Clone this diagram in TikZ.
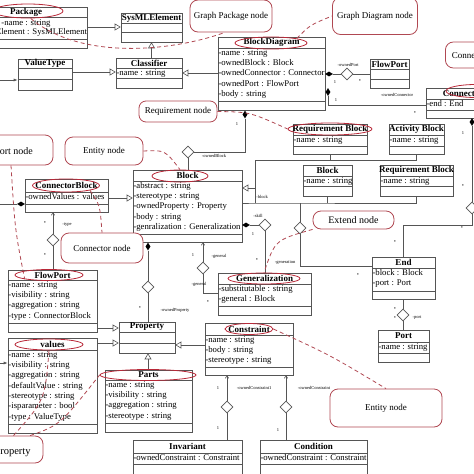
\documentclass[tikz,border=0pt]{standalone}
\usepackage{fontspec}
\setmainfont{Liberation Serif}
\usetikzlibrary{arrows.meta,shapes.geometric,fit,positioning}
\definecolor{notered}{RGB}{176,72,82}
\definecolor{markred}{RGB}{184,40,56}
\definecolor{boxgray}{RGB}{85,85,85}
\newcommand{\linesp}{10.3}
% class box: name, x1, y1, x2, y2, first divider, second divider, title, attributes
\newcommand{\umlclass}[9]{%
  \node[cls, fit={(#2,#3) (#4,#5)}] (#1) {};
  \node[ttl] at ({(#2+#4)/2}, {(#3+#6)/2}) {#8};
  \draw[con] (#2,#6) -- (#4,#6) (#2,#7) -- (#4,#7);
  \foreach \a [count=\i] in {#9} \node[attr] at (#2, {#6+\i*\linesp-\linesp/2}) {\a};
}
\tikzset{
  cls/.style={draw=boxgray, line width=0.6pt, inner sep=0pt},
  con/.style={draw=boxgray, line width=0.6pt},
  ttl/.style={font=\fontsize{9}{10}\selectfont\bfseries, inner sep=0pt},
  attr/.style={anchor=west, font=\fontsize{8.7}{10}\selectfont, inner sep=0pt, xshift=0.3pt, text height=5.8pt, text depth=1.6pt},
  lbl/.style={font=\fontsize{4.5}{5}\selectfont, inner sep=0.5pt},
  callout/.style={draw=notered, line width=0.8pt, rounded corners=8pt, fill=white, font=\fontsize{9}{10}\selectfont},
  hl/.style={draw=markred, ellipse, line width=0.8pt, inner sep=0pt},
  lnk/.style={draw=notered, dash pattern=on 4pt off 3pt, line width=0.8pt},
  gen/.style={-{Triangle[open,length=6pt,width=7pt]}},
  barb/.style={-{Straight Barb[length=2.5pt,width=3.5pt]}},
  hd/.style={diamond, draw=boxgray, fill=white, inner sep=0pt, minimum width=12pt, minimum height=12pt, line width=0.6pt},
  fd/.style={diamond, fill=black, inner sep=0pt, minimum width=5pt, minimum height=8pt},
  fdh/.style={diamond, fill=black, inner sep=0pt, minimum width=8pt, minimum height=5pt},
}
\begin{document}
\begin{tikzpicture}[x=1pt,y=-1pt]
\useasboundingbox (0,0) rectangle (474,474);

% classes
\node[cls, fit={(-35,7) (87,48)}] (pkg) {};
\node[ttl] at (26,12) {Package};
\draw[con] (-35,17) -- (87,17) (-35,39) -- (87,39);
\node[attr] at (1,23) {-name : string};
\node[attr, anchor=east] at (87,32) {-ownedElement : SysMLElement};
\umlclass{sysml}{121}{13}{182}{42}{23}{32}{SysMLElement}{}
\umlclass{vtype}{18}{59}{72}{90}{68}{79}{ValueType}{}
\umlclass{cls}{116}{58}{182}{88}{68}{78}{Classifier}{-name : string}
\umlclass{bd}{218}{37}{325}{110}{48}{101}{BlockDiagram}{-name : string,-ownedBlock : Block,-ownedConnector : Connector,-ownedPort : FlowPort,-body : string}
\umlclass{fp1}{370}{59}{409}{88}{69}{79}{FlowPort}{}
\umlclass{conn}{426}{88}{500}{118}{99}{110}{Connector}{-end : End}
\umlclass{rb1}{293}{124}{367}{154}{135}{146}{Requirement Block}{-name : string}
\umlclass{ab}{389}{124}{444}{154}{135}{146}{Activity Block}{-name : string}
\umlclass{sb}{303}{165}{352}{196}{176}{186}{Block}{-name : string}
\umlclass{rb2}{380}{165}{453}{196}{176}{186}{Requirement Block}{-name : string}
\umlclass{blk}{133}{170}{242}{242}{181}{234}{Block}{-abstract : string,-stereotype : string,-ownedProperty : Property,-body : string,-genralization : Generalization}
\umlclass{cb}{25}{179}{108}{212}{192}{204}{ConnectorBlock}{-ownedValues : values}
\umlclass{fp2}{8}{270}{97}{332}{280}{323}{FlowPort}{-name : string,-visibility : string,-aggregation : string,-type : ConnectorBlock}
\umlclass{vals}{8}{338}{97}{433}{350}{424}{values}{-name : string,-visibility : string,-aggregation : string,-defaultValue : string,-stereotype : string,-isparameter : bool,-type : ValueType}
\umlclass{prop}{119}{322}{175}{353}{332}{343}{Property}{}
\umlclass{gen}{218}{273}{311}{315}{284}{306}{Generalization}{-substitutable : string,-general : Block}
\umlclass{cons}{205}{323}{293}{375}{335}{367}{Constraint}{-name : string,-body : string,-stereotype : string}
\umlclass{parts}{105}{370}{192}{432}{380}{423}{Parts}{-name : string,-visibility : string,-aggregation : string,-stereotype : string}
\umlclass{inv}{133}{440}{242}{480}{453}{464}{Invariant}{-ownedConstraint : Constraint}
\umlclass{cond}{260}{440}{367}{480}{453}{464}{Condition}{-ownedConstraint : Constraint}
\umlclass{endb}{372}{257}{435}{299}{268}{291}{End}{-block : Block,-port : Port}
\umlclass{port}{378}{330}{429}{362}{342}{353}{Port}{-name : string}

% generalizations
\draw[con,gen] (pkg.east |- 0,27) -- (sysml.west |- 0,27);
\draw[con,gen] (vtype.east |- 0,72) -- (cls.west |- 0,72);
\draw[con,gen] (cls.north -| sysml.south) -- (sysml.south);
\draw[con,gen] (bd.west |- 0,73) -- (cls.east |- 0,73);
\draw[con,gen] (cb.east |- 0,198) -- (blk.west |- 0,198);
\draw[con,gen] (fp2.east |- 0,328) -- (prop.west |- 0,328);
\draw[con,gen] (vals.east |- 0,343) -- (prop.west |- 0,343);
\draw[con,gen] (parts.north -| 148,0) -- (prop.south -| 148,0);
\draw[con,gen] (cons.west |- 0,345) -- (prop.east |- 0,345);
\coordinate (busT) at (255,160);
\coordinate (busB) at (255,203);
\draw[con,gen] (busT |- 0,188) -- (blk.east |- 0,188);
\draw[con] (busT) -- (busB);
\draw[con] (busT) -| (ab.south);
\draw[con] (rb1.south) -- (rb1.south |- busT);
\draw[con] (blk.east |- busB) -- (busB) -| (rb2.south);
\draw[con] (sb.south) -- (sb.south |- busB);
\node[lbl] at (262,197) {-block};

% incoming from the left
\coordinate (vtIn) at (-5,80);
\coordinate (valIn) at (-5,363);
\coordinate (cbOut) at (-5,204);
\draw[con,-{Latex[length=4pt,width=3pt]}] (vtIn) -- (vtype.west |- vtIn);
\draw[con,-{Latex[length=4pt,width=3pt]}] (valIn) -- (vals.west |- valIn);
\node[fdh] (cbL) at (21,204) {};
\draw[con] (cbL) -- (cbOut);

% BlockDiagram
\node[fdh] (bdP) at (329,74) {};
\node[hd] (bdPh) at (347,74) {};
\draw[con] (bdP) -- (bdPh) -- (fp1.west |- bdPh);
\node[lbl] at (348,65) {-ownedPort};
\node[lbl] at (335,82) {1};
\node[lbl] at (360,81) {*};
\node[fd] (bdC) at (328,92) {};
\draw[con] (bdC.south) |- (conn.west |- 0,105);
\node[lbl] at (397,95) {-ownedConnector};
\node[lbl] at (336,100) {1};
\node[lbl] at (415,113) {*};
\node[fd] (bdB) at (245,114.5) {};
\node[hd] (bdBh) at (188,152) {};
\draw[con] (bdB.south) |- (bdBh.east);
\draw[con] (bdBh.south) -- (blk.north -| bdBh);
\node[lbl] at (237,124) {1};
\node[lbl] at (214,156) {-ownedBlock};

% Connector to End to Port
\node[fd] (connE) at (472,122) {};
\node[hd] (connEh) at (472,208) {};
\coordinate (endTurn) at (403,225);
\draw[con] (connE) -- (connEh);
\draw[con] (connEh.south) |- (endTurn) -- (endb.north -| endTurn);
\node[lbl] at (463,133) {1};
\node[lbl] at (463,186) {*};
\node[lbl] at (462,228) {*};
\node[lbl] at (395,242) {*};
\node[hd] (endP) at (403,315) {};
\draw[con] (endb.south -| endP) -- (endP) -- (port.north -| endP);
\node[lbl] at (395,309) {*};
\node[lbl] at (395,318) {*};
\node[lbl] at (417,318) {-port};

% Block associations
\node[fdh] (blkS) at (246,225) {};
\node[hd] (blkSh) at (265,225) {};
\draw[con] (blkS) -- (blkSh);
\draw[con] (blkSh.south) -- (gen.north -| blkSh);
\node[lbl] at (258,216) {-skill};
\node[lbl] at (253,234) {1};
\node[lbl] at (257,260) {*};
\node[hd] (endG) at (300,228) {};
\draw[con] (endG.north) -- (endG.north |- busB);
\draw[con] (endG.south) |- (endb.west |- 0,266);
\node[lbl] at (285,262) {-generation};
\node[lbl] at (358,275) {*};
\node[hd] (blkG) at (203,268) {};
\draw[con,barb] (blkG.north) -- (blk.south -| blkG);
\draw[con] (blkG.south) |- (gen.west |- 0,293);
\node[lbl] at (193,255) {1};
\node[lbl] at (219,256) {-general};
\node[lbl] at (199,284) {-general};
\node[lbl] at (208,302) {*};
\node[fd] (blkP) at (148,246.5) {};
\node[hd] (blkPh) at (148,287) {};
\draw[con] (blkP) -- (blkPh) -- (prop.north -| blkPh);
\node[lbl] at (140,308) {*};
\node[lbl] at (175,310) {-ownedProperty};

% ConnectorBlock to FlowPort
\node[hd] (cbT) at (53,240) {};
\draw[con,barb] (cbT.north) -- (cb.south -| cbT);
\draw[con] (cbT.south) -- (fp2.north -| cbT);
\node[lbl] at (45,223) {*};
\node[lbl] at (67,225) {-type};
\node[lbl] at (45,255) {*};

% Constraint
\node[hd] (consI) at (227,407) {};
\node[hd] (consC) at (286,407) {};
\draw[con,barb] (consI.north) -- (cons.south -| consI);
\draw[con] (consI.south) -- (inv.north -| consI);
\draw[con,barb] (consC.north) -- (cons.south -| consC);
\draw[con] (consC.south) -- (cond.north -| consC);
\node[lbl] at (218,388) {1};
\node[lbl] at (254,388) {-ownedConstraint1};
\node[lbl] at (218,428) {1};
\node[lbl] at (314,388) {-ownedConstraint};
\node[lbl] at (278,430) {1};

% highlights
\node[hl, minimum width=70pt, minimum height=14pt] (pkgE) at (28,11) {};
\node[hl, minimum width=72pt, minimum height=12pt] (bdE) at (271,43) {};
\node[hl, minimum width=60pt, minimum height=13pt] (connEl) at (476,91) {};
\node[hl, minimum width=84pt, minimum height=12pt] (rbE) at (330,129) {};
\node[hl, minimum width=56pt, minimum height=12pt] (blkE) at (180,176) {};
\node[hl, minimum width=67pt, minimum height=13pt] (cbE) at (66,185.5) {};
\node[hl, minimum width=68pt, minimum height=11pt] (fpE) at (49,275) {};
\node[hl, minimum width=68pt, minimum height=11pt] (valE) at (49,344.5) {};
\node[hl, minimum width=72pt, minimum height=11pt] (genE) at (264,278.5) {};
\node[hl, minimum width=48pt, minimum height=11pt] (consE) at (249,329) {};
\node[hl, minimum width=96pt, minimum height=11pt] (partE) at (148,375) {};

% notes
\node[callout, minimum width=82pt, minimum height=32pt] (gpn) at (231,16) {Graph Package node};
\node[callout, minimum width=85pt, minimum height=37pt] (gdn) at (375,16) {Graph Diagram node};
\node[callout, minimum width=70pt, minimum height=26pt, anchor=west] (cnn) at (445,55) {Connector node};
\node[callout, minimum width=78pt, minimum height=21pt, rounded corners=7pt] (rqn) at (178,111.5) {Requirement node};
\node[callout, minimum width=84pt, minimum height=30pt] (ptn) at (11,150) {};
\node[font=\fontsize{10}{11}\selectfont] at (13.5,151) {Port node};
\node[callout, minimum width=78pt, minimum height=28pt] (enu) at (104,151) {Entity node};
\node[callout, minimum width=81pt, minimum height=18pt, font=\fontsize{10}{11}\selectfont] (exn) at (353.5,220) {Extend node};
\node[callout, minimum width=82pt, minimum height=30pt] (cnl) at (102,248) {Connector node};
\node[callout, minimum width=112pt, minimum height=38pt] (enl) at (386,408) {Entity node};
\node[callout, minimum width=59pt, minimum height=27pt] (prn) at (13.5,449.5) {};
\node[font=\fontsize{10.5}{11}\selectfont] at (12.5,452) {Property};

% links
\draw[lnk] (pkgE.290) .. controls (80,60) and (170,52) .. (gpn.250);
\draw[lnk] (bdE.north east) .. controls (310,25) .. (gdn.west);
\draw[lnk] (rqn.east) .. controls (250,112) .. (rbE.west);
\draw[lnk] (enu.east) .. controls (165,150) .. (blkE.north);
\draw[lnk] (ptn.south) .. controls (15,230) .. (fpE.south west);
\draw[lnk] (cbE.south east) .. controls (100,205) .. (cnl.north);
\draw[lnk] (exn.south west) .. controls (275,240) .. (genE.north);
\draw[lnk] (consE.east) .. controls (330,355) .. (enl.north);
\draw[lnk] (prn.north) .. controls (45,400) .. (valE.south);
\draw[lnk] (prn.40) .. controls (60,425) .. (partE.west);
\end{tikzpicture}
\end{document}
